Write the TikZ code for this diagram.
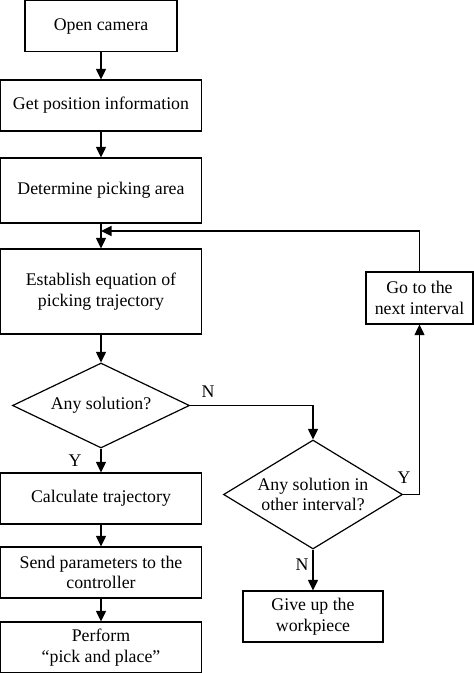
\documentclass[tikz,border=0pt]{standalone}
\usepackage{fontspec}
\setmainfont{Liberation Serif}
\usetikzlibrary{arrows.meta,shapes.geometric}
\begin{document}
\begin{tikzpicture}[x=1pt, y=-1pt, >={Triangle[length=10.5pt,width=10pt]}]
	\tikzset{every node/.style={font=\fontsize{17.8}{20.5}\selectfont}}
	\tikzset{box/.style={draw, line width=1.2pt, rectangle, align=center, inner sep=0pt}}
	\tikzset{choice/.style={draw, line width=1.2pt, diamond, align=center, inner sep=0pt}}
	\tikzset{flow/.style={line width=1.2pt}}
	\useasboundingbox (0,0) rectangle (474,673);
	% --- 1. Cot trai ---
	\node[box, minimum width=152, minimum height=51] (cam) at (101,26) {Open camera};
	\node[box, minimum width=201, minimum height=51] (pos) at (101,105.5) {Get position information};
	\node[box, minimum width=201, minimum height=65] (area) at (101,190.5) {Determine picking area};
	\node[box, minimum width=201, minimum height=85] (equ) at (101,291.5) {Establish equation of\\picking trajectory};
	\node[choice, aspect=2.08, minimum width=177, minimum height=85] (sol) at (101,405.5) {Any solution?};
	\node[box, minimum width=201, minimum height=51] (traj) at (101,498.5) {Calculate trajectory};
	\node[box, minimum width=201, minimum height=51] (send) at (101,572.5) {Send parameters to the\\controller};
	\node[box, minimum width=201, minimum height=51] (pick) at (101,647.5) {Perform\\``pick and place''};
	% --- 2. Cot phai ---
	\node[choice, aspect=1.64, minimum width=179, minimum height=109] (other) at (313,494.5) {Any solution in\\other interval?};
	\node[box, minimum width=107, minimum height=52] (next) at (419.5,298) {Go to the\\next interval};
	\node[box, minimum width=140, minimum height=51] (give) at (313,616.5) {Give up the\\workpiece};
	\coordinate (loop) at (101,231);
	\coordinate (turnN) at (313,405.5);
	\coordinate (turnY) at (419.5,494.5);
	% --- 3. Mui ten ---
	\draw[flow, ->] (cam) -- (pos);
	\draw[flow, ->] (pos) -- (area);
	\draw[flow, ->] (area) -- (equ);
	\draw[flow, ->] (equ) -- (sol);
	\draw[flow, ->] (sol) -- (traj);
	\draw[flow, ->] (traj) -- (send);
	\draw[flow, ->] (send) -- (pick);
	\draw[flow, ->] (sol.east) -- (turnN) -- (other.north);
	\draw[flow, ->] (other.east) -- (turnY) -- (next.south);
	\draw[flow, ->] (next.north) |- (loop);
	\draw[flow, ->] (other) -- (give);
	% --- 4. Nhan Y/N ---
	\node (solY) at (75,461) {Y};
	\node (solN) at (208,392) {N};
	\node (othY) at (404,478) {Y};
	\node (othN) at (302,565) {N};
\end{tikzpicture}
\end{document}
